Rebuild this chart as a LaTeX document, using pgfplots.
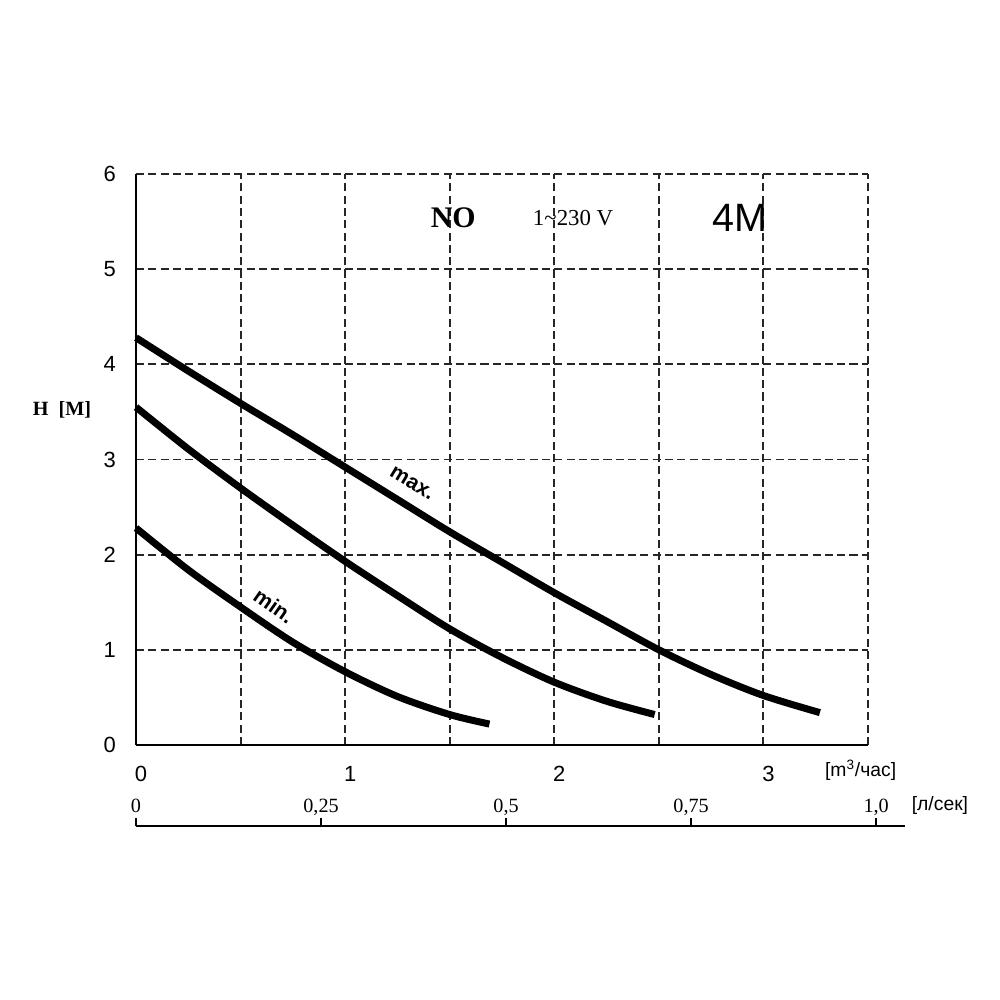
\documentclass[border=0pt]{standalone}
\usepackage{pgfplots}
\pgfplotsset{compat=1.18}
\usepackage{fontspec}
\setmainfont{Liberation Serif}
\setsansfont{Liberation Sans}
\begin{document}
\begin{tikzpicture}
\useasboundingbox (-2.72cm,-5.1cm) rectangle (17.28cm,14.9cm);
\begin{axis}[
  at={(0,0)}, anchor=south west,
  scale only axis, width=14.64cm, height=11.42cm,
  xmin=0, xmax=3.5, ymin=0, ymax=6,
  axis x line*=bottom, axis y line*=left,
  axis line style={line width=1.6pt, black},
  xtick={0,0.5,1,1.5,2,2.5,3,3.5}, xticklabels={0,,1,,2,,3,},
  ytick={0,1,2,3,4,5,6},
  grid=major,
  major grid style={black!85, line width=1.1pt, dash pattern=on 4.6pt off 2.4pt},
  major tick length=0,
  /pgf/number format/assume math mode=true,
  tick label style={font=\sffamily\fontsize{12.5}{14}\selectfont},
  xticklabel style={yshift=-0.3cm, xshift=0.1cm},
  yticklabel style={xshift=-0.28cm},
  clip=false,
]
\addplot[black, line width=4pt, smooth] coordinates {
 (0,4.28) (0.25,3.93) (0.5,3.59) (0.75,3.26) (1.0,2.92) (1.25,2.58) (1.5,2.24)
 (1.75,1.92) (2.0,1.60) (2.25,1.30) (2.5,1.00) (2.75,0.74) (3.0,0.52) (3.27,0.34)};
\addplot[black, line width=4pt, smooth] coordinates {
 (0,3.55) (0.25,3.11) (0.5,2.70) (0.75,2.31) (1.0,1.93) (1.25,1.57) (1.5,1.22)
 (1.75,0.92) (2.0,0.66) (2.25,0.46) (2.48,0.32)};
\addplot[black, line width=4pt, smooth] coordinates {
 (0,2.28) (0.25,1.84) (0.5,1.45) (0.75,1.08) (1.0,0.77) (1.25,0.51) (1.5,0.32) (1.69,0.22)};
\node[font=\bfseries\fontsize{17}{20}\selectfont] at (axis cs:1.517,5.54) {NO};
\node[font=\fontsize{13}{15}\selectfont] at (axis cs:2.09,5.54) {1\textasciitilde230 V};
\node[font=\sffamily\fontsize{22.5}{26}\selectfont] at (axis cs:2.89,5.54) {4M};
\node[font=\bfseries\fontsize{11.5}{13}\selectfont] at (axis cs:-0.354,3.52) {H\ \ [M]};
\node[font=\sffamily\bfseries\fontsize{12}{14}\selectfont, rotate=-31] at (axis cs:1.32,2.75) {max.};
\node[font=\sffamily\bfseries\fontsize{12}{14}\selectfont, rotate=-35] at (axis cs:0.66,1.46) {min.};
\node[font=\sffamily\fontsize{11}{12}\selectfont, anchor=west] at (axis cs:3.265,-0.263) {[m\textsuperscript{3}/час]};
\node[font=\sffamily\fontsize{11}{13}\selectfont, anchor=west] at (axis cs:3.68,-0.64) {[л/сек]};
\end{axis}
\begin{axis}[
  at={(0,-1.62cm)}, anchor=south west,
  scale only axis, width=15.38cm, height=1cm,
  xmin=0, xmax=1.039, ymin=0, ymax=1,
  axis x line*=bottom, axis y line=none,
  axis line style={line width=1.3pt, black},
  xtick={0,0.25,0.5,0.75,1}, xticklabels={0,{0,25},{0,5},{0,75},{1,0}},
  tick align=inside, major tick length=0.16cm,
  tick style={line width=1pt, black},
  xticklabel style={anchor=base, yshift=0.26cm, font=\fontsize{11.5}{13}\selectfont},
]
\addplot[draw=none] coordinates {(0,0)};
\end{axis}
\end{tikzpicture}
\end{document}
